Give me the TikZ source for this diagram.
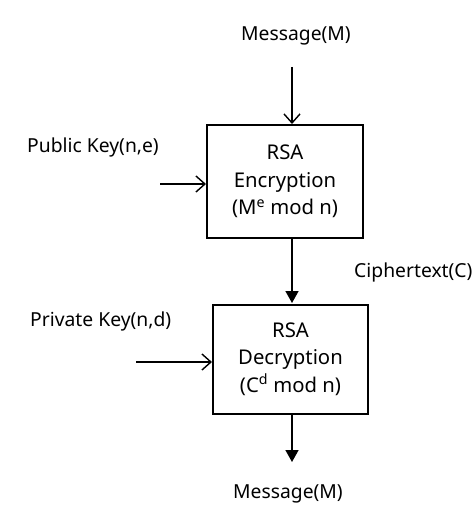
\documentclass[tikz,border=0pt]{standalone}
\usepackage{fontspec}
\setmainfont{Noto Sans}
\usetikzlibrary{arrows.meta}
\begin{document}
\begin{tikzpicture}[x=1pt,y=-1pt,
  lbl/.style={inner sep=0pt,font=\fontsize{19.3}{23}\selectfont},
  blk/.style={draw,line width=2pt,inner sep=0pt,align=center,font=\fontsize{20.3}{27.5}\selectfont},
  openarr/.style={line width=1.4pt,-{Straight Barb[length=9pt,width=16pt,line width=1.4pt]}},
  fillarr/.style={line width=1.6pt,-{Triangle[length=12pt,width=13pt]}}]
\useasboundingbox (0,0) rectangle (474,505);
\node[lbl] (m1) at (296,36) {Message(M)};
\node[blk,minimum width=156pt,minimum height=113pt] (enc) at (285,181.5) {RSA\\Encryption\\(M\textsuperscript{e} mod n)};
\node[blk,minimum width=155pt,minimum height=109pt] (dec) at (290.5,359) {RSA\\Decryption\\(C\textsuperscript{d} mod n)};
\node[lbl,anchor=west] (pub) at (27,147) {Public Key(n,e)};
\node[lbl,anchor=west] (priv) at (30,321) {Private Key(n,d)};
\node[lbl,anchor=west] (ct) at (354,272) {Ciphertext(C)};
\node[lbl] (m2) at (288,494) {Message(M)};
\coordinate (s1) at (292,67);
\coordinate (s2) at (160,184);
\coordinate (s3) at (136,362);
\coordinate (e4) at (292,462);
\draw[openarr] (s1) -- (s1 |- enc.north);
\draw[openarr] (s2) -- (s2 -| enc.west);
\draw[fillarr] (enc.south -| 292,0) -- (292,303);
\draw[openarr] (s3) -- (s3 -| dec.west);
\draw[fillarr] (dec.south -| 292,0) -- (e4);
\end{tikzpicture}
\end{document}
